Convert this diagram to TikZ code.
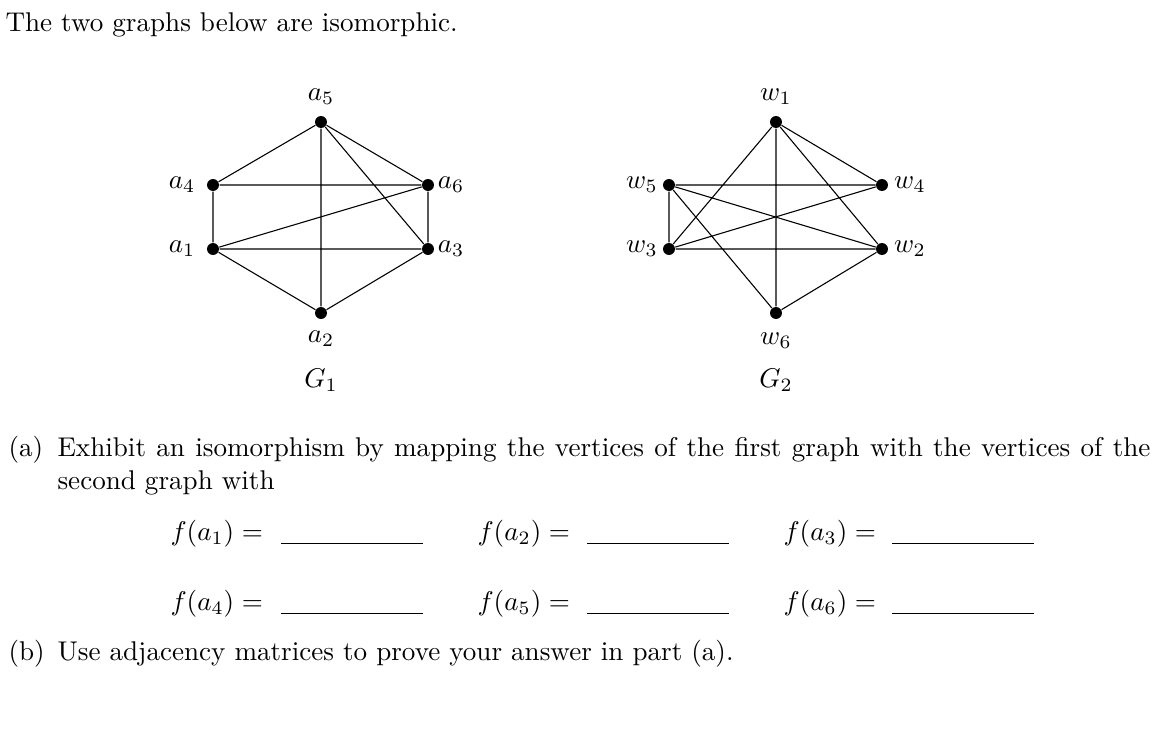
\documentclass[tikz,border=0pt]{standalone}
\begin{document}
\begin{tikzpicture}[x=0.369pt,y=-0.369pt,
  vtx/.style={circle,fill=black,inner sep=0pt,minimum size=4.4pt},
  lbl/.style={inner sep=0pt},
  txt/.style={inner sep=0pt,anchor=base west},
  blank/.style={line width=0.3pt}]
\useasboundingbox (0,0) rectangle (1167,745);
% G1
\node[vtx] (a5) at (321,122) {};
\node[vtx] (a4) at (213,185) {};
\node[vtx] (a6) at (428,185) {};
\node[vtx] (a1) at (213,249) {};
\node[vtx] (a3) at (428,249) {};
\node[vtx] (a2) at (321,313) {};
\node[lbl] (la5) at (321,97) {$a_5$};
\node[lbl] (la4) at (182,185) {$a_4$};
\node[lbl] (la6) at (451,185) {$a_6$};
\node[lbl] (la1) at (182,249) {$a_1$};
\node[lbl] (la3) at (451,249) {$a_3$};
\node[lbl] (la2) at (321,339) {$a_2$};
\node[lbl] (g1) at (321,380) {$G_1$};
\draw (a5)--(a4) (a5)--(a2) (a5)--(a3) (a5)--(a6) (a4)--(a6) (a4)--(a1)
      (a1)--(a6) (a1)--(a3) (a1)--(a2) (a6)--(a3) (a3)--(a2);
% G2
\node[vtx] (w1) at (776,122) {};
\node[vtx] (w5) at (669,185) {};
\node[vtx] (w4) at (882,185) {};
\node[vtx] (w3) at (669,249) {};
\node[vtx] (w2) at (882,249) {};
\node[vtx] (w6) at (776,313) {};
\node[lbl] (lw1) at (776,97) {$w_1$};
\node[lbl] (lw5) at (642,185) {$w_5$};
\node[lbl] (lw4) at (910,185) {$w_4$};
\node[lbl] (lw3) at (642,249) {$w_3$};
\node[lbl] (lw2) at (910,249) {$w_2$};
\node[lbl] (lw6) at (776,341) {$w_6$};
\node[lbl] (g2) at (776,380) {$G_2$};
\draw (w1)--(w4) (w1)--(w3) (w1)--(w2) (w1)--(w6) (w5)--(w4) (w5)--(w3)
      (w5)--(w2) (w5)--(w6) (w3)--(w4) (w3)--(w2) (w2)--(w6);
% text
\node[txt] (t0) at (5,32) {The two graphs below are isomorphic.};
\node[txt] (pa) at (8,456) {(a)};
\node[inner sep=0pt,anchor=north west,text width=403.3pt,align=justify] (ta) at (57,437)
 {Exhibit an isomorphism by mapping the vertices of the first graph with the vertices of the\linebreak second graph with};
\node[txt] (f1) at (170,540) {$f(a_1)=$};
\node[txt] (f2) at (477,540) {$f(a_2)=$};
\node[txt] (f3) at (783,540) {$f(a_3)=$};
\node[txt] (f4) at (170,610) {$f(a_4)=$};
\node[txt] (f5) at (477,610) {$f(a_5)=$};
\node[txt] (f6) at (783,610) {$f(a_6)=$};
\coordinate (b1s) at (281,543); \coordinate (b1e) at (423,543);
\coordinate (b2s) at (587,543); \coordinate (b2e) at (729,543);
\coordinate (b3s) at (892,543); \coordinate (b3e) at (1034,543);
\coordinate (b4s) at (281,613); \coordinate (b4e) at (423,613);
\coordinate (b5s) at (587,613); \coordinate (b5e) at (729,613);
\coordinate (b6s) at (892,613); \coordinate (b6e) at (1034,613);
\draw[blank] (b1s)--(b1e) (b2s)--(b2e) (b3s)--(b3e) (b4s)--(b4e) (b5s)--(b5e) (b6s)--(b6e);
\node[txt] (pb) at (8,660) {(b)};
\node[txt] (tb) at (57,660) {Use adjacency matrices to prove your answer in part (a).};
\end{tikzpicture}
\end{document}
